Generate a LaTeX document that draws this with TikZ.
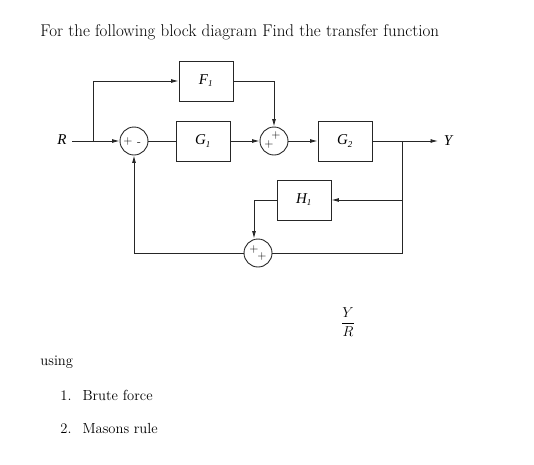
\documentclass[tikz,border=0pt]{standalone}
\usepackage{amsmath}
\usepackage{fontspec}
\newfontfamily\blkfont{Liberation Serif}
\usetikzlibrary{positioning,arrows.meta,calc}
\tikzset{block/.style={draw, minimum width=54pt, minimum height=40pt, font=\blkfont\itshape\fontsize{15}{17}\selectfont},
	sumnode/.style={draw, circle, minimum size=28pt, inner sep=0pt},
	sgn/.style={font=\fontsize{12}{12}\selectfont, inner sep=0pt},
	sig/.style={-{Latex[length=7.5pt,width=4pt]}},
	txt/.style={font=\fontsize{14.6}{17}\selectfont, inner sep=0pt}}
\newcommand{\lowidx}[1]{\textsubscript{\fontsize{9}{9}\selectfont #1}}

\begin{document}
\begin{tikzpicture}[x=1pt,y=-1pt,line width=0.9pt,draw=black!85]
			\useasboundingbox (0,0) rectangle (534,464);
			\node[txt, anchor=west, font=\fontsize{17}{20}\selectfont] (title) at (40,32) {For the following block diagram Find the transfer function};
			% blocks
			\node[block] (F1) at (206,81) {F\lowidx{1}};
			\node[block] (G1) at (203,141) {G\lowidx{1}};
			\node[block] (G2) at (345,141) {G\lowidx{2}};
			\node[block] (H1) at (304,200) {H\lowidx{1}};
			% summing junctions
			\node[sumnode] (s1) at (134,141) {};
			\node[sumnode] (s2) at (274,141) {};
			\node[sumnode] (s3) at (258,253) {};
			\node[sgn] at ($(s1)+(-6,0)$) {+};
			\node[sgn] at ($(s1)+(5,3)$) {-};
			\node[sgn] at ($(s2)+(-5,3)$) {+};
			\node[sgn] at ($(s2)+(2,-5)$) {+};
			\node[sgn] at ($(s3)+(-4,-4)$) {+};
			\node[sgn] at ($(s3)+(4,3)$) {+};
			% input and output
			\node[block, draw=none, minimum size=0pt, inner sep=0pt] (R) at (62,140) {R};
			\node[block, draw=none, minimum size=0pt, inner sep=0pt] (Y) at (448,141) {Y};
			\coordinate (rin) at (72,141);
			\coordinate (bR) at (93,141);
			\coordinate (bY) at (402,141);
			\coordinate (yout) at (438,141);
			% connectors
			\draw[sig] (rin) -- (s1);
			\draw[sig] (bR) |- (F1);
			\draw (s1) -- (G1);
			\draw[sig] (G1) -- (s2);
			\draw[sig] (F1.east) -| (s2.north);
			\draw[sig] (s2) -- (G2);
			\draw[sig] (G2) -- (yout);
			\draw[sig] (bY) |- (H1);
			\draw[sig] (H1.west) -| ([xshift=-4pt]s3.north);
			\draw (s3) -| (bY);
			\draw[sig] (s3) -| (s1.south);
			% text below
			\node[txt] (frac) at (348,322) {$\dfrac{Y}{R}$};
			\node[txt, anchor=west] (using) at (40,362) {using};
			\node[txt, anchor=west] (i1) at (60,395) {1.\hspace{0.75em}Brute force};
			\node[txt, anchor=west] (i2) at (60,428) {2.\hspace{0.75em}Masons rule};
		\end{tikzpicture}
\end{document}
